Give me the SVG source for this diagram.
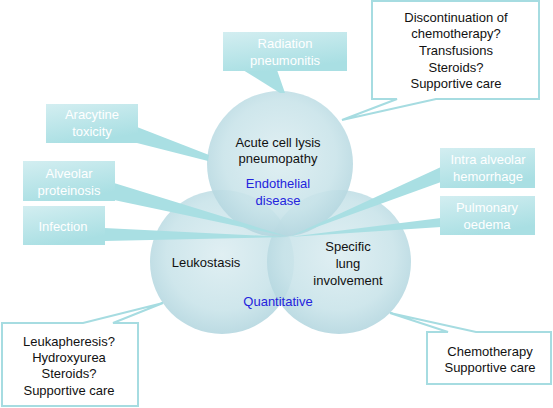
<svg xmlns="http://www.w3.org/2000/svg" width="553" height="408" viewBox="0 0 553 408">
<defs>
<radialGradient id="cg" cx="0.5" cy="0.45" r="0.55">
<stop offset="0" stop-color="#dcedf1"/>
<stop offset="0.7" stop-color="#c8e3e9"/>
<stop offset="1" stop-color="#b3d6df"/>
</radialGradient>
<linearGradient id="bg" x1="0" y1="0" x2="0.4" y2="1">
<stop offset="0" stop-color="#d3eef1"/>
<stop offset="1" stop-color="#a9dfe3"/>
</linearGradient>
<style>
.circ{fill:url(#cg);opacity:0.88}
.tbox{fill:url(#bg)}
.tail{fill:#a9dfe3}
.wbox{fill:#ffffff;stroke:#a6dce1;stroke-width:2;stroke-linejoin:miter}
text{font-family:"Liberation Sans",Arial,sans-serif;font-size:13px;text-anchor:middle}
.w{fill:#ffffff}
.k{fill:#111111}
.b{fill:#2424dd}
</style>
</defs>
<rect width="553" height="408" fill="#ffffff"/>
<g id="leukostasis">
<circle class="circ" cx="222" cy="262" r="72"/>
<text class="k" x="206" y="267">Leukostasis</text>
</g>
<g id="specific">
<circle class="circ" cx="339" cy="262" r="72"/>
<text class="k" x="348" y="251">Specific</text>
<text class="k" x="348" y="268">lung</text>
<text class="k" x="348" y="285">involvement</text>
</g>
<g id="acute">
<circle class="circ" cx="280" cy="164" r="73"/>
<text class="k" x="278" y="147">Acute cell lysis</text>
<text class="k" x="278" y="163">pneumopathy</text>
</g>
<g id="labels">
<text class="b" x="278" y="188">Endothelial</text>
<text class="b" x="278" y="205">disease</text>
<text class="b" x="278" y="306">Quantitative</text>
</g>
<g id="connectors">
<polygon class="tail" points="243,70 277,70 285,93 280,93"/>
<polygon class="tail" points="137,127 137,143 208,161 209,155"/>
<polygon class="tail" points="114,183 114,200 289,237"/>
<polygon class="tail" points="104,228 104,241 289,237"/>
<polygon class="tail" points="441,167 441,182 289,237"/>
<polygon class="tail" points="441,218 441,227 289,237"/>
</g>
<g id="radiation">
<rect class="tbox" x="223" y="32" width="124" height="39"/>
<text class="w" x="285" y="48">Radiation</text>
<text class="w" x="285" y="65">pneumonitis</text>
</g>
<g id="aracytine">
<rect class="tbox" x="46" y="104" width="92" height="39"/>
<text class="w" x="92" y="119">Aracytine</text>
<text class="w" x="92" y="136">toxicity</text>
</g>
<g id="alveolar">
<rect class="tbox" x="23" y="161" width="92" height="40"/>
<text class="w" x="69" y="178">Alveolar</text>
<text class="w" x="69" y="195">proteinosis</text>
</g>
<g id="infection">
<rect class="tbox" x="23" y="206" width="82" height="39"/>
<text class="w" x="63" y="231">Infection</text>
</g>
<g id="intra">
<rect class="tbox" x="440" y="148" width="95" height="40"/>
<text class="w" x="488" y="164">Intra alveolar</text>
<text class="w" x="488" y="181">hemorrhage</text>
</g>
<g id="pulmonary">
<rect class="tbox" x="440" y="196" width="95" height="39"/>
<text class="w" x="487" y="212">Pulmonary</text>
<text class="w" x="487" y="229">oedema</text>
</g>
<g id="discontinuation">
<path class="wbox" d="M372,1 H539 V99 H436 L342,120 L397,99 H372 Z"/>
<text class="k" x="456" y="22">Discontinuation of</text>
<text class="k" x="456" y="38">chemotherapy?</text>
<text class="k" x="456" y="55">Transfusions</text>
<text class="k" x="456" y="72">Steroids?</text>
<text class="k" x="456" y="88">Supportive care</text>
</g>
<g id="leukapheresis">
<path class="wbox" d="M2,323 H83 L163,303 L113,323 H138 V406 H2 Z"/>
<text class="k" x="69" y="346">Leukapheresis?</text>
<text class="k" x="69" y="362">Hydroxyurea</text>
<text class="k" x="69" y="378">Steroids?</text>
<text class="k" x="69" y="395">Supportive care</text>
</g>
<g id="chemotherapy">
<path class="wbox" d="M427,332 H448 L390,313 L476,332 H551 V384 H427 Z"/>
<text class="k" x="490" y="356">Chemotherapy</text>
<text class="k" x="490" y="372">Supportive care</text>
</g>
</svg>
